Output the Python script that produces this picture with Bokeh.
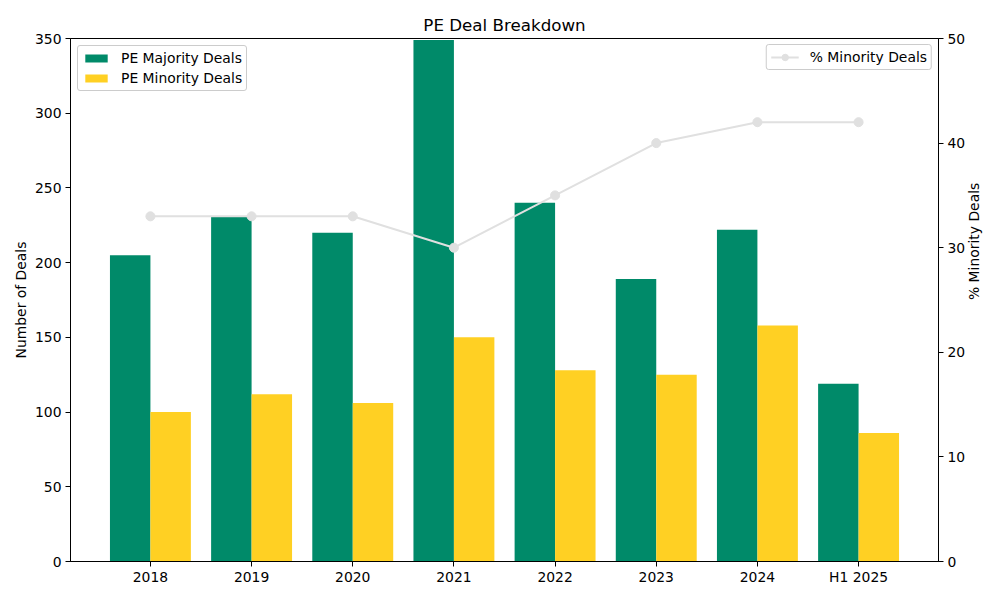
from math import pi
from bokeh.plotting import figure
from bokeh.models import Range1d, LinearAxis, FixedTicker, Legend, LegendItem
from bokeh.embed import file_html
from bokeh.resources import INLINE

categories = ["2018", "2019", "2020", "2021", "2022", "2023", "2024", "H1 2025"]
majority_deals = [205, 231, 220, 349, 240, 189, 222, 119]
minority_deals = [100, 112, 106, 150, 128, 125, 158, 86]
pct_minority = [33, 33, 33, 30, 35, 40, 42, 42]

GREEN = "#008a69"
YELLOW = "#ffd023"
GREY = "#e0e0e0"
FONT = "DejaVu Sans"
FS = "13.9px"

idx = list(range(len(categories)))
bw = 0.4
x_lo, x_hi = -0.79, len(categories) - 1 + 0.79

p = figure(width=992, height=592, output_backend="svg", toolbar_location=None,
           x_range=Range1d(x_lo, x_hi),
           y_range=Range1d(0, 350),
           min_border_left=70, min_border_right=54, min_border_top=38, min_border_bottom=31)
p.extra_y_ranges = {"pct": Range1d(0, 50)}

p.title.text = "PE Deal Breakdown"
p.title.align = "center"
p.title.text_font = FONT
p.title.text_font_size = "16.7px"
p.title.text_font_style = "normal"
p.title.text_color = "black"
p.title.standoff = 8

r_maj = p.vbar(x=[i - bw / 2 for i in idx], top=majority_deals, width=bw,
               fill_color=GREEN, line_color=None)
r_min = p.vbar(x=[i + bw / 2 for i in idx], top=minority_deals, width=bw,
               fill_color=YELLOW, line_color=None)
r_line = p.line(x=idx, y=pct_minority, line_color=GREY, line_width=2, y_range_name="pct")
r_pts = p.scatter(x=idx, y=pct_minority, size=9, fill_color=GREY, line_color=GREY,
                  y_range_name="pct")

# right axis with ticks, and a second label-only axis outside it
right = LinearAxis(y_range_name="pct")
p.add_layout(right, "right")
label_axis = LinearAxis(y_range_name="pct", axis_label="% Minority Deals")
p.add_layout(label_axis, "right")

p.xaxis.ticker = FixedTicker(ticks=idx)
p.xaxis.major_label_overrides = {i: c for i, c in enumerate(categories)}
p.yaxis[0].axis_label = "Number of Deals"
p.yaxis[0].ticker = FixedTicker(ticks=[0, 50, 100, 150, 200, 250, 300, 350])
right.ticker = FixedTicker(ticks=[0, 10, 20, 30, 40, 50])

for ax in p.axis:
    ax.major_label_text_font = FONT
    ax.major_label_text_font_size = FS
    ax.major_label_text_color = "black"
    ax.axis_label_text_font = FONT
    ax.axis_label_text_font_size = FS
    ax.axis_label_text_font_style = "normal"
    ax.axis_label_text_color = "black"
    ax.major_tick_in = 0
    ax.major_tick_out = 5
    ax.minor_tick_line_color = None
    ax.axis_line_color = "black"
    ax.major_tick_line_color = "black"
    ax.major_label_standoff = 4
    ax.axis_label_standoff = 6

p.xaxis.major_label_standoff = 2
p.yaxis[0].axis_label_standoff = 3

# label-only axis: title reads bottom-to-top like the reference
label_axis.ticker = FixedTicker(ticks=[0])
label_axis.major_label_overrides = {0: ""}
label_axis.major_tick_out = 0
label_axis.major_tick_line_color = None
label_axis.major_label_standoff = 0
label_axis.axis_line_color = None
label_axis.axis_label_standoff = 5
label_axis.axis_label_orientation = pi / 2
label_axis.bounds = (0, 38.7)

p.xgrid.grid_line_color = None
p.ygrid.grid_line_color = None
p.outline_line_color = "black"
p.outline_line_width = 1
p.background_fill_color = "white"
p.border_fill_color = "white"

def style_legend(lg):
    lg.label_text_font = FONT
    lg.label_text_font_size = FS
    lg.label_text_color = "black"
    lg.border_line_color = "#cccccc"
    lg.border_line_alpha = 1
    lg.border_radius = 3
    lg.background_fill_alpha = 0.8
    lg.glyph_width = 28
    lg.glyph_height = 10
    lg.label_height = 14
    lg.spacing = 4
    lg.padding = 4
    lg.margin = 7
    lg.label_standoff = 11

leg1 = Legend(items=[LegendItem(label="PE Majority Deals", renderers=[r_maj]),
                     LegendItem(label="PE Minority Deals", renderers=[r_min])],
              location="top_left")
leg2 = Legend(items=[LegendItem(label="% Minority Deals", renderers=[r_line, r_pts])],
              location="top_right")
style_legend(leg1)
style_legend(leg2)
leg2.glyph_height = 16
leg2.margin = 6
p.add_layout(leg1, "center")
p.add_layout(leg2, "center")

open("out.html", "w").write(file_html(p, INLINE))
